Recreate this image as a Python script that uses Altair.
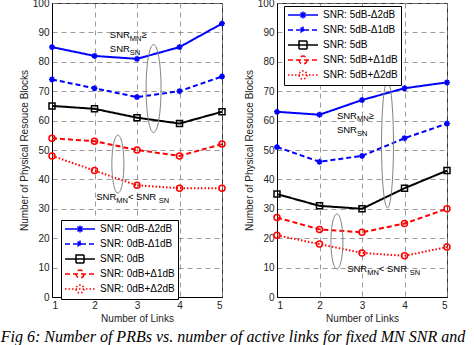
import altair as alt
import pandas as pd

links = [1, 2, 3, 4, 5]
y_ticks = [0, 10, 20, 30, 40, 50, 60, 70, 80, 90, 100]

left_labels = ["SNR: 0dB-Δ2dB", "SNR: 0dB-Δ1dB", "SNR: 0dB", "SNR: 0dB+Δ1dB", "SNR: 0dB+Δ2dB"]
left_m2 = [85, 82, 81, 85, 93]
left_m1 = [74, 71, 68, 70, 75]
left_0 = [65, 64, 61, 59, 63]
left_p1 = [54, 53, 50, 48, 52]
left_p2 = [48, 43, 38, 37, 37]

right_labels = ["SNR: 5dB-Δ2dB", "SNR: 5dB-Δ1dB", "SNR: 5dB", "SNR: 5dB+Δ1dB", "SNR: 5dB+Δ2dB"]
right_m2 = [63, 62, 67, 71, 73]
right_m1 = [51, 46, 48, 54, 59]
right_0 = [35, 31, 30, 37, 43]
right_p1 = [27, 23, 22, 25, 30]
right_p2 = [21, 18, 15, 14, 17]

x_title = "Number of Links"
y_title = "Number of Physical Resouce Blocks"
caption = "Fig 6: Number of PRBs vs. number of active links for fixed MN SNR and"

FONT = "Liberation Sans"
colors = ["#0000FF", "#0000FF", "#000000", "#FF0000", "#FF0000"]
dashes = [[1, 0], [5, 3], [1, 0], [5, 3], [1.5, 2]]
widths = [2, 2, 1.3, 2, 1.6]

AST = "M-1,0L1,0M0,-1L0,1M-0.7,-0.7L0.7,0.7M-0.7,0.7L0.7,-0.7"
marker_shapes = [AST, AST, "square", "circle", "circle"]
marker_sizes = [36, 36, 60, 45, 45]
marker_widths = [1.5, 1.5, 1.3, 1.8, 1.8]

LINE = "M-1,0L5,0"
L_AST = LINE + "M1.3,0L2.7,0M2,-0.7L2,0.7M1.5,-0.5L2.5,0.5M1.5,0.5L2.5,-0.5"
L_SQ = LINE + "M1.2,-0.8L2.8,-0.8L2.8,0.8L1.2,0.8Z"
L_CI = LINE + "M2.8,0A0.8,0.8 0 1,1 1.2,0A0.8,0.8 0 1,1 2.8,0"
legend_shapes = [L_AST, L_AST, L_SQ, L_CI, L_CI]

CW = {"S": .667, "N": .722, "R": .722, "M": .833, " ": .278, "≥": .549, "<": .584}

AX_COMMON = dict(grid=True, gridDash=[5, 4], gridColor="#808080", gridWidth=0.8, ticks=False,
                 labelOverlap=False, labelFont=FONT, labelFontSize=10, labelColor="#222",
                 titleFont=FONT, titleFontSize=10, titleFontWeight="normal", titleColor="#222",
                 domainColor="black", labelPadding=3, titlePadding=3)


def rich(pieces, xv, yv, x, y):
    out = []
    dx = 0.0
    pos = pd.DataFrame({"links": [xv], "prb": [yv]})
    for txt, sub in pieces:
        fs = 7.5 if sub else 9.5
        out.append(
            alt.Chart(pos).mark_text(text=txt, align="left", baseline="middle", dx=dx,
                                     dy=3.5 if sub else 0, fontSize=fs, font=FONT, color="black")
            .encode(x=x, y=y)
        )
        dx += sum(CW.get(c, .6) for c in txt) * fs
    return out


def ellipse(xv, yv, w, h, x, y):
    r = (w / 2) / (h / 2)
    path = f"M0,-1A{r:.3f},1 0 1,1 0,1A{r:.3f},1 0 1,1 0,-1Z"
    pos = pd.DataFrame({"links": [xv], "prb": [yv]})
    return alt.Chart(pos).mark_point(shape=path, size=h * h, filled=False, color="#808080",
                                     strokeWidth=1, opacity=1).encode(x=x, y=y)


def panel(labels, series, lx, ly, ells, texts):
    rows = []
    for lab, vals in zip(labels, series):
        for xv, v in zip(links, vals):
            rows.append({"links": xv, "prb": v, "series": lab})
    df = pd.DataFrame(rows)
    base = alt.Chart(df)
    x = alt.X("links:Q", scale=alt.Scale(domain=[1, 5], nice=False),
              axis=alt.Axis(values=links, title=x_title, format="d", **AX_COMMON))
    y = alt.Y("prb:Q", scale=alt.Scale(domain=[0, 100], nice=False),
              axis=alt.Axis(values=y_ticks, title=y_title, **AX_COMMON))
    lines = base.mark_line().encode(
        x=x, y=y,
        color=alt.Color("series:N", scale=alt.Scale(domain=labels, range=colors), legend=None),
        strokeDash=alt.StrokeDash("series:N", scale=alt.Scale(domain=labels, range=dashes), legend=None),
        strokeWidth=alt.StrokeWidth("series:N", scale=alt.Scale(domain=labels, range=widths), legend=None),
    )
    points = base.mark_point(filled=False, opacity=1).encode(
        x=x, y=y,
        color=alt.Color("series:N", scale=alt.Scale(domain=labels, range=colors), legend=None),
        shape=alt.Shape("series:N", scale=alt.Scale(domain=labels, range=marker_shapes), legend=None),
        size=alt.Size("series:N", scale=alt.Scale(domain=labels, range=marker_sizes), legend=None),
        strokeWidth=alt.StrokeWidth("series:N", scale=alt.Scale(domain=labels, range=marker_widths), legend=None),
    )
    leg = alt.Legend(orient="none", legendX=lx, legendY=ly, title=None, fillColor="white",
                     strokeColor="black", padding=3, labelFont=FONT, labelFontSize=10,
                     labelColor="black", symbolSize=100, symbolStrokeWidth=1.5, labelOffset=24,
                     rowPadding=1, cornerRadius=0)
    legend_layer = base.transform_filter("false").mark_point(filled=False, opacity=1).encode(
        x=x, y=y,
        color=alt.Color("series:N", scale=alt.Scale(domain=labels, range=colors), legend=leg),
        shape=alt.Shape("series:N", scale=alt.Scale(domain=labels, range=legend_shapes), legend=leg),
        strokeDash=alt.StrokeDash("series:N", scale=alt.Scale(domain=labels, range=dashes), legend=leg),
    )
    annots = [ellipse(*e, x, y) for e in ells]
    for pieces, xv, yv in texts:
        annots += rich(pieces, xv, yv, x, y)
    layers = [lines, points] + annots + [legend_layer]
    return alt.layer(*layers).resolve_scale(
        color="independent", shape="independent", strokeDash="independent",
        size="independent", strokeWidth="independent"
    ).properties(width=170, height=294)


GE = [("SNR", False), ("MN", True), (" ≥", False)]
SN = [("SNR", False), ("SN", True)]
LT = [("SNR", False), ("MN", True), (" < SNR", False), ("SN", True)]

left = panel(left_labels, [left_m2, left_m1, left_0, left_p1, left_p2], 9, 217,
             [(3.39, 70.9, 15, 88), (2.55, 45.2, 12, 58)],
             [(GE, 2.36, 89.0), (SN, 2.36, 84.2), (LT, 2.04, 34.0)])
right = panel(right_labels, [right_m2, right_m1, right_0, right_p1, right_p2], 7, 3,
              [(3.60, 51.9, 12, 127), (2.41, 18.9, 12, 55)],
              [(GE, 2.41, 61.6), (SN, 2.41, 56.8), (LT, 2.65, 9.5)])

chart = alt.hconcat(left, right, spacing=14).properties(
    padding={"left": 0, "top": -3, "right": 0, "bottom": 0},
    background="white",
    title=alt.TitleParams(text=caption, orient="bottom", anchor="start", font="Liberation Serif",
                          fontStyle="italic", fontWeight="normal", fontSize=16, color="black",
                          dx=-18, offset=5, limit=472),
).configure_view(stroke="#333", strokeWidth=1).configure_axis(**AX_COMMON)

chart.save("out.html", embed_options={"renderer": "svg", "actions": False})
